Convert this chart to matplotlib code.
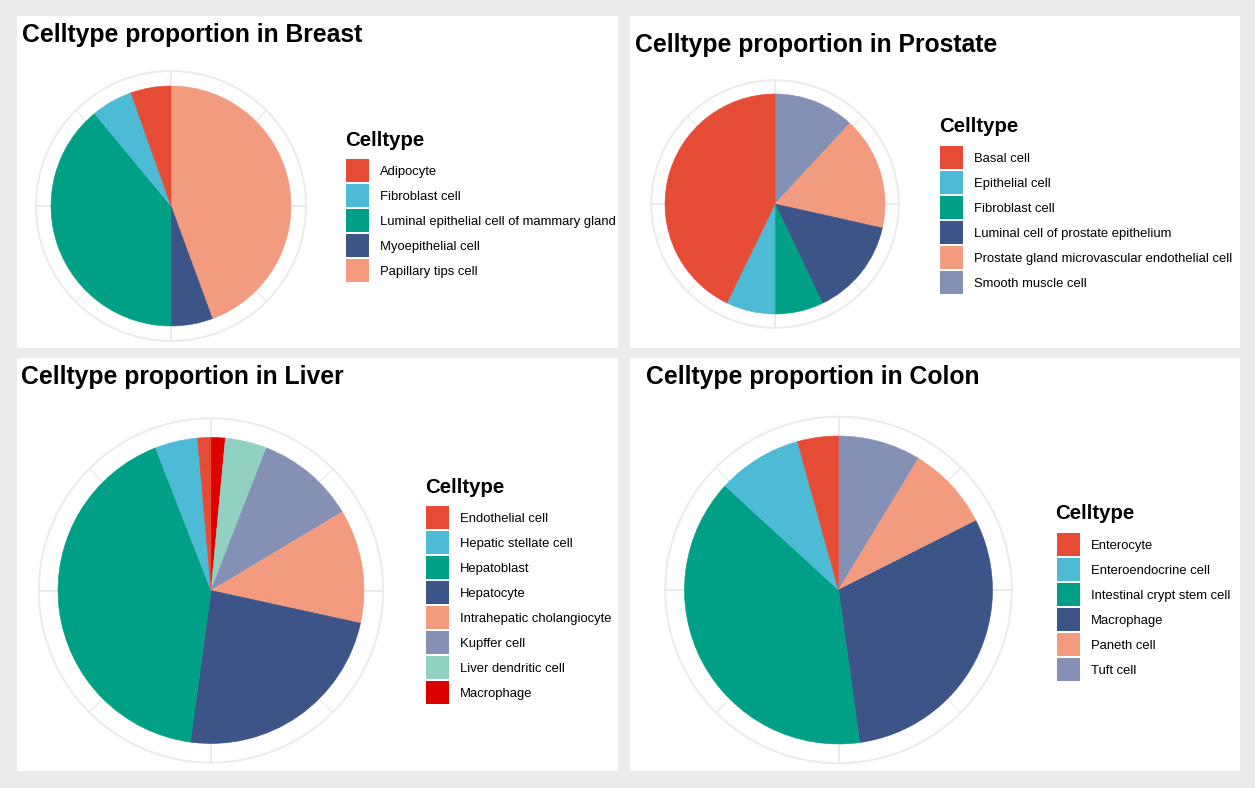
import numpy as np
import matplotlib.pyplot as plt
from matplotlib.patches import Rectangle, Patch, Circle

plt.rcParams['font.family'] = ['Liberation Sans', 'DejaVu Sans']

W, H = 1255, 788

# npg palette
npg = ['#E64B35', '#4DBBD5', '#00A087', '#3C5488', '#F39B7F',
       '#8491B4', '#91D1C2', '#DC0000']

# proportions (%), in legend order
breast_types = ['Adipocyte', 'Fibroblast cell',
                'Luminal epithelial cell of mammary gland',
                'Myoepithelial cell', 'Papillary tips cell']
breast_vals = [5.4, 5.6, 39.0, 5.6, 44.4]

prostate_types = ['Basal cell', 'Epithelial cell', 'Fibroblast cell',
                  'Luminal cell of prostate epithelium',
                  'Prostate gland microvascular endothelial cell',
                  'Smooth muscle cell']
prostate_vals = [42.8, 7.2, 7.1, 14.4, 16.6, 11.9]

liver_types = ['Endothelial cell', 'Hepatic stellate cell', 'Hepatoblast',
               'Hepatocyte', 'Intrahepatic cholangiocyte', 'Kupffer cell',
               'Liver dendritic cell', 'Macrophage']
liver_vals = [1.4, 4.5, 41.9, 23.7, 12.0, 10.5, 4.4, 1.5]

colon_types = ['Enterocyte', 'Enteroendocrine cell',
               'Intestinal crypt stem cell', 'Macrophage', 'Paneth cell',
               'Tuft cell']
colon_vals = [4.3, 8.9, 39.1, 30.3, 8.9, 8.7]

# layout in pixels: panel box, title pos, pie center/radius, legend pos
panels = [
    dict(tissue='Breast', types=breast_types, vals=breast_vals,
         box=(17, 16, 618, 348), title=(22, 42), center=(171, 206), r=120,
         leg_title=(345, 146), leg=(346, 159)),
    dict(tissue='Prostate', types=prostate_types, vals=prostate_vals,
         box=(630, 16, 1240, 348), title=(635, 52), center=(775, 204), r=110,
         leg_title=(939, 132), leg=(940, 146)),
    dict(tissue='Liver', types=liver_types, vals=liver_vals,
         box=(17, 358, 618, 771), title=(21, 384), center=(211, 590.5), r=153,
         leg_title=(425, 493), leg=(426, 506)),
    dict(tissue='Colon', types=colon_types, vals=colon_vals,
         box=(630, 358, 1240, 771), title=(646, 384), center=(838.5, 590), r=154,
         leg_title=(1055, 519), leg=(1057, 533)),
]


def fx(x):
    return x / W


def fy(y):
    return 1 - y / H


fig = plt.figure(figsize=(W / 100, H / 100), dpi=100)
fig.patch.set_facecolor('#EBEBEB')

grid_col = '#EBEBEB'
lim = 1.16

for p in panels:
    x0, y0, x1, y1 = p['box']
    fig.add_artist(Rectangle((fx(x0), fy(y1)), fx(x1 - x0), (y1 - y0) / H,
                             transform=fig.transFigure, facecolor='white',
                             edgecolor='none', zorder=0))

    fig.text(fx(p['title'][0]), fy(p['title'][1]),
             f"Celltype proportion in {p['tissue']}",
             fontsize=17.8, fontweight='bold', ha='left', va='baseline')

    cx, cy = p['center']
    r = p['r']
    half = lim * r
    ax = fig.add_axes([fx(cx - half), fy(cy + half), 2 * half / W, 2 * half / H])

    # polar grid: outer ring and spokes
    ax.add_patch(Circle((0, 0), 1.125, fill=False, edgecolor=grid_col,
                        linewidth=1.4, zorder=0))
    for ang in range(0, 360, 45):
        lw = 1.4 if ang % 90 == 0 else 0.9
        a = np.radians(ang)
        ax.plot([0, 1.125 * np.sin(a)], [0, 1.125 * np.cos(a)],
                color=grid_col, linewidth=lw, zorder=0)

    cols = npg[:len(p['vals'])]
    wedges, _ = ax.pie(p['vals'][::-1], colors=cols[::-1], startangle=90,
                       counterclock=False, radius=1,
                       wedgeprops=dict(linewidth=0))
    for w in wedges:
        w.set_edgecolor(w.get_facecolor())
        w.set_linewidth(0.4)
        w.set_zorder(2)
    ax.set_xlim(-lim, lim)
    ax.set_ylim(-lim, lim)
    ax.set_aspect('equal')
    ax.axis('off')

    fig.text(fx(p['leg_title'][0]), fy(p['leg_title'][1]), 'Celltype',
             fontsize=14.7, fontweight='bold', ha='left', va='baseline')
    handles = [Patch(facecolor=c, edgecolor='none') for c in cols]
    fs = 9.35
    fpx = fs * 100 / 72
    # patch height = fs*(0.65*hh + 0.245) -> 23 px keys
    hh = (23 / fpx - 0.245) / 0.65
    fig.legend(handles, p['types'], loc='upper left',
               bbox_to_anchor=(fx(p['leg'][0]), fy(p['leg'][1])),
               frameon=False, fontsize=fs, borderpad=0, borderaxespad=0,
               handlelength=23 / fpx, handleheight=hh,
               labelspacing=2 / fpx, handletextpad=11 / fpx)

fig.savefig('out.png', dpi=100, facecolor=fig.get_facecolor())
